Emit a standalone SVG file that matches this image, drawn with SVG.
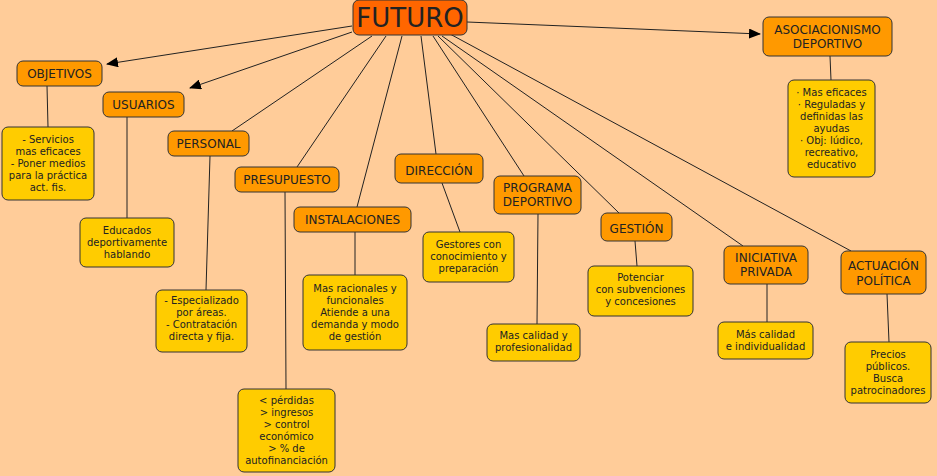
<svg xmlns="http://www.w3.org/2000/svg" width="937" height="476" viewBox="0 0 937 476">
<style>
.o{fill:#FF9900;stroke:#333;stroke-width:1}
.y{fill:#FFCC00;stroke:#333;stroke-width:1}
.f{fill:#FF6600;stroke:#333;stroke-width:1}
text{font-family:"DejaVu Sans",Verdana,sans-serif;fill:#222;text-anchor:middle}
.t{font-size:12px}
.d{font-size:10px}
#c line{stroke:#222;stroke-width:1}
</style>
<defs><marker id="a" markerWidth="12" markerHeight="10" refX="11" refY="5" orient="auto" markerUnits="userSpaceOnUse"><path d="M0,0L12,5L0,10z" fill="#000"/></marker></defs>
<rect width="937" height="476" fill="#FFCC99"/>
<g id="c">
<line x1="352" y1="26" x2="107" y2="64" marker-end="url(#a)"/>
<line x1="352" y1="32" x2="190" y2="88" marker-end="url(#a)"/>
<line x1="467" y1="22" x2="760" y2="34" marker-end="url(#a)"/>
<line x1="372" y1="36" x2="232" y2="131"/>
<line x1="386" y1="36" x2="297" y2="167"/>
<line x1="402" y1="36" x2="357" y2="207"/>
<line x1="421" y1="36" x2="436" y2="154"/>
<line x1="433" y1="36" x2="524" y2="176"/>
<line x1="438" y1="36" x2="619" y2="213"/>
<line x1="442" y1="36" x2="743" y2="246"/>
<line x1="450" y1="34" x2="851" y2="251"/>
<line x1="47" y1="86" x2="48" y2="127"/>
<line x1="127" y1="117" x2="127" y2="218"/>
<line x1="210" y1="156" x2="206" y2="290"/>
<line x1="285" y1="192" x2="286" y2="389"/>
<line x1="355" y1="232" x2="355" y2="275"/>
<line x1="442" y1="183" x2="460" y2="232"/>
<line x1="538" y1="214" x2="537" y2="324"/>
<line x1="635" y1="241" x2="637" y2="266"/>
<line x1="767" y1="284" x2="767" y2="322"/>
<line x1="887" y1="294" x2="889" y2="342"/>
<line x1="830" y1="56" x2="831" y2="80"/>
</g>
<g id="futuro"><rect class="f" x="353" y="0" width="114" height="35" rx="6"/><text x="410" y="27" style="font-size:26px">FUTURO</text></g>
<g id="objetivos"><rect class="o" x="17" y="61" width="85" height="25" rx="6"/><text class="t" x="59.5" y="78">OBJETIVOS</text></g>
<g id="usuarios"><rect class="o" x="103" y="92" width="81" height="25" rx="6"/><text class="t" x="143.5" y="109">USUARIOS</text></g>
<g id="personal"><rect class="o" x="168" y="131" width="81" height="25" rx="6"/><text class="t" x="208.5" y="148">PERSONAL</text></g>
<g id="presupuesto"><rect class="o" x="235" y="167" width="104" height="25" rx="6"/><text class="t" x="287" y="184">PRESUPUESTO</text></g>
<g id="instalaciones"><rect class="o" x="294" y="207" width="117" height="25" rx="6"/><text class="t" x="352.5" y="224">INSTALACIONES</text></g>
<g id="direccion"><rect class="o" x="395" y="154" width="88" height="29" rx="6"/><text class="t" x="439" y="175">DIRECCIÓN</text></g>
<g id="programa"><rect class="o" x="494" y="176" width="87" height="38" rx="6"/><text class="t" x="537.5" y="192">PROGRAMA</text><text class="t" x="537.5" y="206">DEPORTIVO</text></g>
<g id="gestion"><rect class="o" x="601" y="213" width="71" height="28" rx="6"/><text class="t" x="636.5" y="233">GESTIÓN</text></g>
<g id="iniciativa"><rect class="o" x="724" y="246" width="84" height="38" rx="6"/><text class="t" x="766" y="262">INICIATIVA</text><text class="t" x="766" y="276">PRIVADA</text></g>
<g id="actuacion"><rect class="o" x="841" y="251" width="85" height="43" rx="6"/><text class="t" x="883.5" y="270">ACTUACIÓN</text><text class="t" x="883.5" y="285">POLÍTICA</text></g>
<g id="asociacionismo"><rect class="o" x="763" y="17" width="129" height="39" rx="6"/><text class="t" x="827.5" y="34">ASOCIACIONISMO</text><text class="t" x="827.5" y="48">DEPORTIVO</text></g>
<g id="d-objetivos"><rect class="y" x="2" y="127" width="92" height="73" rx="6"/><text class="d" x="48" y="143">- Servicios</text><text class="d" x="48" y="155">mas eficaces</text><text class="d" x="48" y="167">- Poner medios</text><text class="d" x="48" y="179">para la práctica</text><text class="d" x="48" y="191">act. fis.</text></g>
<g id="d-usuarios"><rect class="y" x="80" y="218" width="94" height="49" rx="6"/><text class="d" x="127" y="234">Educados</text><text class="d" x="127" y="246">deportivamente</text><text class="d" x="127" y="258">hablando</text></g>
<g id="d-personal"><rect class="y" x="156" y="290" width="91" height="62" rx="6"/><text class="d" x="201.5" y="304">- Especializado</text><text class="d" x="201.5" y="316">por áreas.</text><text class="d" x="201.5" y="328">- Contratación</text><text class="d" x="201.5" y="340">directa y fija.</text></g>
<g id="d-presupuesto"><rect class="y" x="238" y="389" width="97" height="83" rx="6"/><text class="d" x="286.5" y="404">&lt; pérdidas</text><text class="d" x="286.5" y="416">&gt; ingresos</text><text class="d" x="286.5" y="428">&gt; control</text><text class="d" x="286.5" y="440">económico</text><text class="d" x="286.5" y="452">&gt; % de</text><text class="d" x="286.5" y="464">autofinanciación</text></g>
<g id="d-instalaciones"><rect class="y" x="303" y="275" width="104" height="75" rx="6"/><text class="d" x="355" y="292">Mas racionales y</text><text class="d" x="355" y="304">funcionales</text><text class="d" x="355" y="316">Atiende a una</text><text class="d" x="355" y="328">demanda y modo</text><text class="d" x="355" y="340">de gestión</text></g>
<g id="d-direccion"><rect class="y" x="423" y="232" width="91" height="50" rx="6"/><text class="d" x="468.5" y="248">Gestores con</text><text class="d" x="468.5" y="260">conocimiento y</text><text class="d" x="468.5" y="272">preparación</text></g>
<g id="d-programa"><rect class="y" x="487" y="324" width="93" height="37" rx="6"/><text class="d" x="533.5" y="339">Mas calidad y</text><text class="d" x="533.5" y="351">profesionalidad</text></g>
<g id="d-gestion"><rect class="y" x="588" y="266" width="105" height="50" rx="6"/><text class="d" x="640.5" y="281">Potenciar</text><text class="d" x="640.5" y="293">con subvenciones</text><text class="d" x="640.5" y="305">y concesiones</text></g>
<g id="d-iniciativa"><rect class="y" x="718" y="322" width="95" height="37" rx="6"/><text class="d" x="765.5" y="338">Más calidad</text><text class="d" x="765.5" y="350">e individualidad</text></g>
<g id="d-actuacion"><rect class="y" x="845" y="342" width="86" height="61" rx="6"/><text class="d" x="888" y="358">Precios</text><text class="d" x="888" y="370">públicos.</text><text class="d" x="888" y="382">Busca</text><text class="d" x="888" y="394">patrocinadores</text></g>
<g id="d-asociacionismo"><rect class="y" x="788" y="80" width="87" height="97" rx="6"/><text class="d" x="831.5" y="96">· Mas eficaces</text><text class="d" x="831.5" y="108">· Reguladas y</text><text class="d" x="831.5" y="120">definidas las</text><text class="d" x="831.5" y="132">ayudas</text><text class="d" x="831.5" y="144">· Obj: lúdico,</text><text class="d" x="831.5" y="156">recreativo,</text><text class="d" x="831.5" y="168">educativo</text></g>
</svg>
